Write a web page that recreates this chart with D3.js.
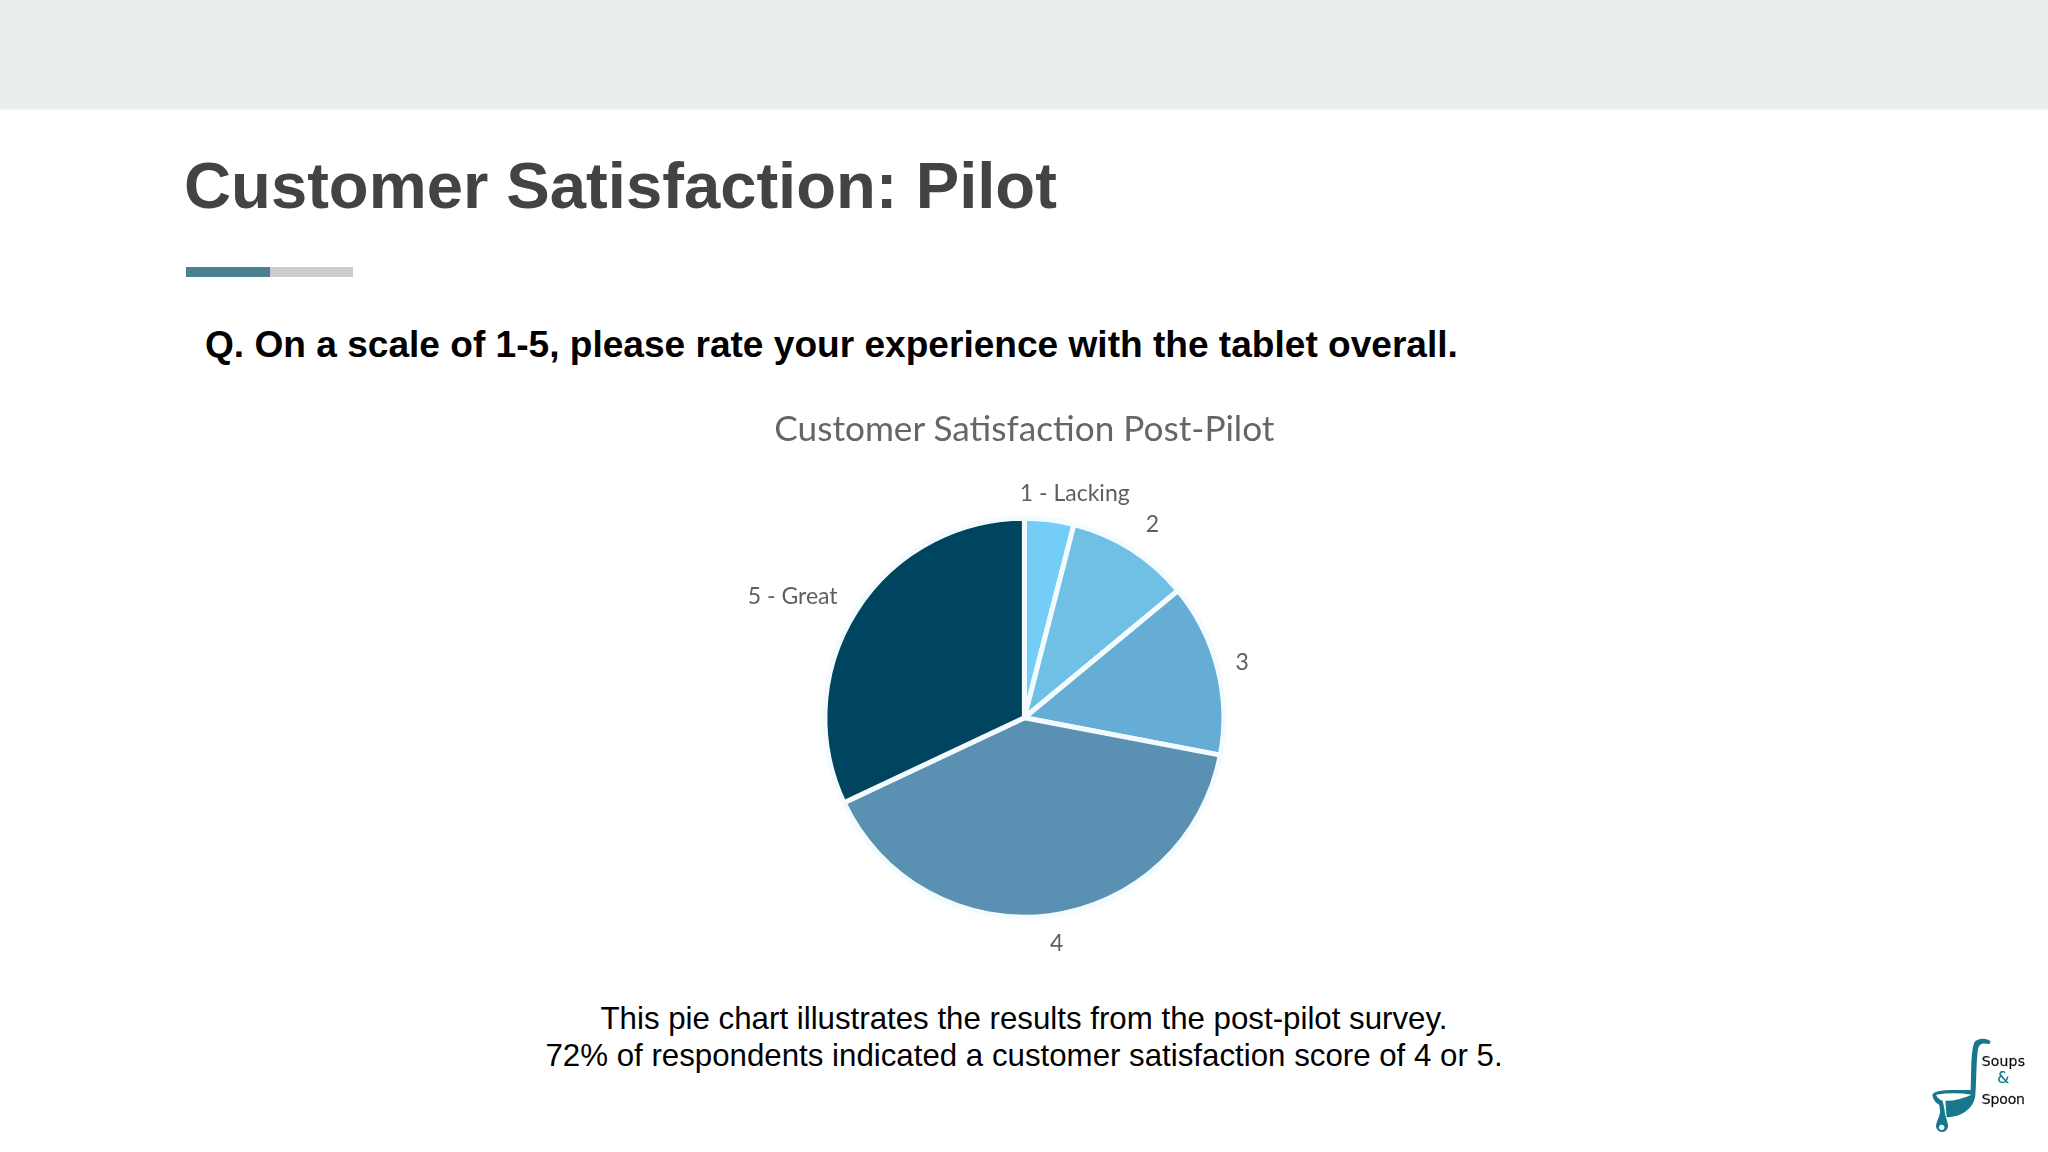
<!DOCTYPE html>
<html><head><meta charset="utf-8">
<script src="https://cdn.jsdelivr.net/npm/d3@7"></script>
<style>html,body{margin:0;padding:0;background:#fff}svg{display:block}</style>
</head><body><svg id="c" width="2048" height="1152"></svg>
<script>
const categories = ["1 - Lacking","2","3","4","5 - Great"];
const shares = [4,10,14,40,32];
const sliceColors = ["#73cdf6","#6fbfe5","#66add6","#5a90b2","#03445f"];
const slideTitle = "Customer Satisfaction: Pilot";
const question = "Q. On a scale of 1-5, please rate your experience with the tablet overall.";
const chartTitle = "Customer Satisfaction Post-Pilot";
const captionLines = ["This pie chart illustrates the results from the post-pilot survey.",
  "72% of respondents indicated a customer satisfaction score of 4 or 5."];

const W=2048,H=1152, cx=1024.4, cy=717.7, R=199.5;
const svg=d3.select("#c");
const defs=svg.append("defs");
defs.append("filter").attr("id","soft").append("feGaussianBlur").attr("stdDeviation",0.7);
const sans="'Liberation Sans',Arial,sans-serif";

svg.append("rect").attr("width",W).attr("height",109.5).attr("fill","#e9eeed");
svg.append("text").attr("x",184).attr("y",208).attr("font-family",sans).attr("font-weight",700)
  .attr("font-size",65.2).attr("fill","#434343").text(slideTitle);
svg.append("rect").attr("x",186).attr("y",267).attr("width",84).attr("height",10).attr("fill","#4a8090");
svg.append("rect").attr("x",270).attr("y",267).attr("width",83).attr("height",10).attr("fill","#cccccc");
svg.append("text").attr("x",205).attr("y",357).attr("font-family",sans).attr("font-weight",700)
  .attr("font-size",37.08).attr("fill","#000").text(question);

const chart=svg.append("g").attr("filter","url(#soft)");
const lato="Lato,'Open Sans',sans-serif";
chart.append("text").attr("x",cx).attr("y",441).attr("text-anchor","middle").attr("font-family",lato)
  .attr("font-size",35.2).attr("fill","#666").text(chartTitle);

const pie=d3.pie().sort(null).value(d=>d)(shares);
const arc=d3.arc().innerRadius(0).outerRadius(R);
const labelArc=d3.arc().innerRadius(226).outerRadius(226);
const g=chart.append("g").attr("transform",`translate(${cx},${cy})`);
g.selectAll("path").data(pie).join("path").attr("d",arc)
  .attr("fill",(d,i)=>sliceColors[i]).attr("stroke","#f4fbff").attr("stroke-width",5).attr("stroke-linejoin","round");
const labelAnchor=["middle","middle","middle","middle","end"];
const labelShiftX=[22,7,-1,4,4];
const labelShiftY=[8,5,9,9,7];
g.selectAll("text").data(pie).join("text")
  .attr("x",(d,i)=>labelArc.centroid(d)[0]+labelShiftX[i])
  .attr("y",(d,i)=>labelArc.centroid(d)[1]+labelShiftY[i])
  .attr("text-anchor",(d,i)=>labelAnchor[i]).attr("font-family",lato)
  .attr("font-size",23).attr("fill","#5f5f5f").text((d,i)=>categories[i]);

svg.selectAll("text.cap").data(captionLines).join("text").attr("class","cap")
  .attr("x",1024).attr("y",(d,i)=>1029+i*37).attr("text-anchor","middle")
  .attr("font-family",sans).attr("font-size",31.25).attr("fill","#000").text(d=>d);

// logo
const logo=svg.append("g").attr("transform","translate(1900,1010) scale(0.3333)").attr("filter","url(#soft)");
const teal="#17788a";
logo.append("path").attr("fill",teal).attr("d","M97 255 Q100 242 150 240 L212 240 C214 190 212 130 222 100 C228 84 262 82 272 95 L268 103 C250 98 238 100 234 118 C228 160 230 210 226 256 C222 295 185 322 140 322 L136 272 Q170 274 215 254 Q160 246 108 254 Q114 268 128 272 L134 300 C132 312 146 340 144 350 C140 372 112 370 108 350 C108 335 122 315 120 302 L118 285 Q100 275 97 255Z");
logo.append("circle").attr("cx",125).attr("cy",352).attr("r",8).attr("fill","#fff");
const logoWords=[["Soups",168,"#111"],["&",220,teal],["Spoon",282,"#111"]];
logoWords.forEach(([t,y,col])=>logo.append("text").attr("x",310).attr("y",y).attr("text-anchor","middle")
  .attr("font-family","'DejaVu Sans',sans-serif").attr("font-size",t==="&"?46:42).attr("fill",col)
  .attr("stroke",col).attr("stroke-width",1).attr("stroke-dasharray","6 3")
  .attr("textLength",t==="&"?null:130).text(t));
</script></body></html>
